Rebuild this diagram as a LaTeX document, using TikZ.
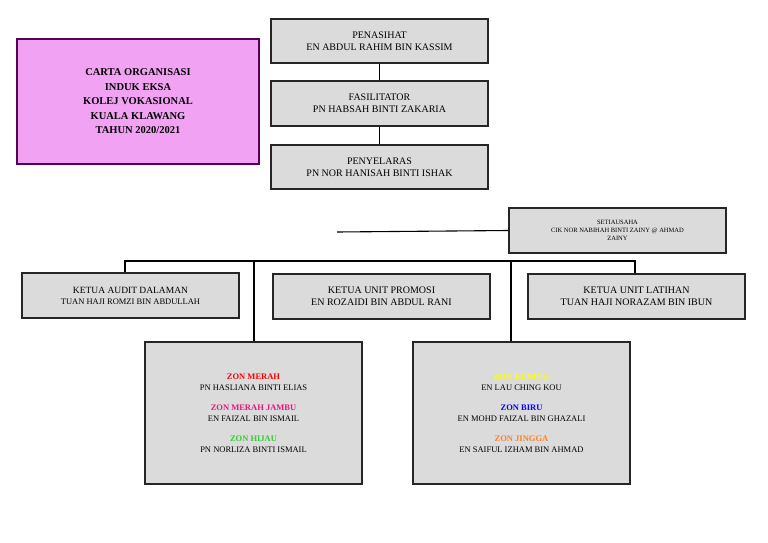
\documentclass[tikz,border=0pt]{standalone}
\usepackage{fontspec}
\setmainfont{Liberation Serif}
\begin{document}
\begin{tikzpicture}[x=1pt,y=-1pt,
 box/.style={draw=black!85,line width=1.3pt,fill=black!14,align=center,inner sep=0pt,font=\fontsize{10}{12}\selectfont},
 ln/.style={line width=1.1pt}]
\useasboundingbox (0,0) rectangle (768,543);
\definecolor{vio}{HTML}{F2A2F2}
\definecolor{zk}{HTML}{FFFF00}
\definecolor{zj}{HTML}{FF7F27}
\definecolor{zmj}{HTML}{E6177A}
\definecolor{zh}{HTML}{33CC33}
\node[box,fill=vio,draw=violet!70!black,minimum width=242pt,minimum height=125pt,font=\bfseries\fontsize{10.5}{14.5}\selectfont] (carta) at (138,101.5) {CARTA ORGANISASI\\INDUK EKSA\\KOLEJ VOKASIONAL\\KUALA KLAWANG\\TAHUN 2020/2021};
\node[box,minimum width=217pt,minimum height=44pt] (pen) at (379.5,41) {PENASIHAT\\EN ABDUL RAHIM BIN KASSIM};
\node[box,minimum width=217pt,minimum height=45pt] (fas) at (379.5,103.5) {FASILITATOR\\PN HABSAH BINTI ZAKARIA};
\node[box,minimum width=217pt,minimum height=44pt] (pny) at (379.5,167) {PENYELARAS\\PN NOR HANISAH BINTI ISHAK};
\node[box,minimum width=217pt,minimum height=45pt,font=\fontsize{6.5}{8}\selectfont] (set) at (617.5,230.5) {SETIAUSAHA\\CIK NOR NABIHAH BINTI ZAINY @ AHMAD\\ZAINY};
\node[box,minimum width=217pt,minimum height=45pt,font=\fontsize{9.5}{11}\selectfont] (aud) at (130.5,295.5) {KETUA AUDIT DALAMAN\\{\fontsize{8.5}{10}\selectfont TUAN HAJI ROMZI BIN ABDULLAH}};
\node[box,minimum width=217pt,minimum height=45pt] (pro) at (381.5,296.5) {KETUA UNIT PROMOSI\\EN ROZAIDI BIN ABDUL RANI};
\node[box,minimum width=217pt,minimum height=45pt] (lat) at (636.5,296.5) {KETUA UNIT LATIHAN\\TUAN HAJI NORAZAM BIN IBUN};
\node[box,minimum width=217pt,minimum height=142pt,font=\fontsize{8.5}{11}\selectfont] (zm) at (253.5,413) {{\bfseries\color{red}ZON MERAH}\\PN HASLIANA BINTI ELIAS\\[9pt]{\bfseries\color{zmj}ZON MERAH JAMBU}\\EN FAIZAL BIN ISMAIL\\[9pt]{\bfseries\color{zh}ZON HIJAU}\\PN NORLIZA BINTI ISMAIL};
\node[box,minimum width=217pt,minimum height=142pt,font=\fontsize{8.5}{11}\selectfont] (zk) at (521.5,413) {{\bfseries\color{zk}ZON KUNING}\\EN LAU CHING KOU\\[9pt]{\bfseries\color{blue}ZON BIRU}\\EN MOHD FAIZAL BIN GHAZALI\\[9pt]{\bfseries\color{zj}ZON JINGGA}\\EN SAIFUL IZHAM BIN AHMAD};
\coordinate (sl) at (337,232);
\coordinate (hl) at (125,261);
\coordinate (hr) at (635,261);
\draw[ln] (pen) -- (fas);
\draw[ln] (fas) -- (pny);
\draw[ln] (sl) -- (set.west);
\draw[ln] (aud.north -| hl) -- (hl) -- (hr) -- (lat.north -| hr);
\draw[ln] (254,261) -- (zm.north -| 254,0);
\draw[ln] (511,261) -- (zk.north -| 511,0);
\end{tikzpicture}
\end{document}
